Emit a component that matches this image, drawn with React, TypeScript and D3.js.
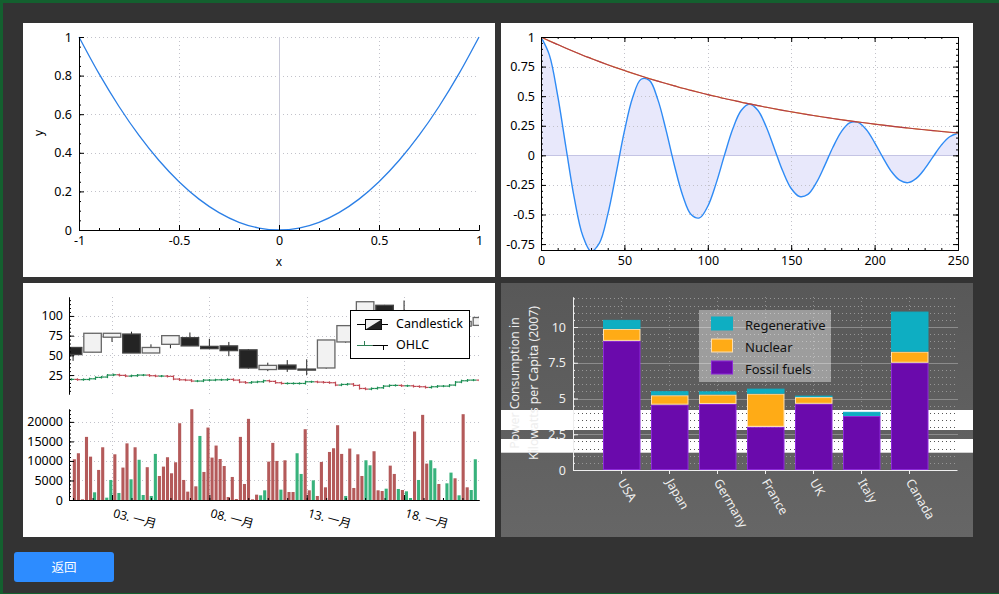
import React, {useEffect, useRef} from "react";
import * as d3 from 'd3';

const WIDTH = 999;
const HEIGHT = 594;
const FONT = '"Noto Sans", "Noto Sans CJK SC", sans-serif';
const GRID = "#c2c2ca";

// top left: parabola
const parabolaX = [-1, -0.9, -0.8, -0.7, -0.6, -0.5, -0.4, -0.3, -0.2, -0.1, 0, 0.1, 0.2, 0.3, 0.4, 0.5, 0.6, 0.7, 0.8, 0.9, 1];
const parabolaY = [1, 0.81, 0.64, 0.49, 0.36, 0.25, 0.16, 0.09, 0.04, 0.01, 0, 0.01, 0.04, 0.09, 0.16, 0.25, 0.36, 0.49, 0.64, 0.81, 1];

// top right: damped wave, sampled every 5 units
const waveX = [0, 5, 10, 15, 20, 25, 30, 35, 40, 45, 50, 55, 60, 65, 70, 75, 80, 85, 90, 95, 100, 105, 110, 115, 120, 125,
    130, 135, 140, 145, 150, 155, 160, 165, 170, 175, 180, 185, 190, 195, 200, 205, 210, 215, 220, 225, 230, 235, 240, 245, 250];
const waveY = [1, 0.849, 0.505, 0.064, -0.364, -0.678, -0.811, -0.741, -0.501, -0.156, 0.204, 0.491, 0.643, 0.633, 0.473, 0.211,
    -0.086, -0.341, -0.5, -0.529, -0.43, -0.237, 0.002, 0.225, 0.379, 0.434, 0.381, 0.242, 0.054, -0.135, -0.28, -0.348, -0.33,
    -0.233, -0.089, 0.068, 0.199, 0.274, 0.279, 0.219, 0.108, -0.019, -0.135, -0.21, -0.231, -0.195, -0.115, -0.013, 0.086, 0.157, 0.187];
const envelopeY = [1, 0.967, 0.936, 0.905, 0.875, 0.846, 0.819, 0.792, 0.766, 0.741, 0.717, 0.693, 0.67, 0.648, 0.627, 0.607,
    0.587, 0.567, 0.549, 0.531, 0.513, 0.497, 0.48, 0.465, 0.449, 0.435, 0.42, 0.407, 0.393, 0.38, 0.368, 0.356, 0.344,
    0.333, 0.322, 0.311, 0.301, 0.291, 0.282, 0.273, 0.264, 0.255, 0.247, 0.238, 0.231, 0.223, 0.216, 0.209, 0.202, 0.195, 0.189];

// bottom left: candlesticks, one per day of january
const candleDay = [1, 2, 3, 4, 5, 6, 7, 8, 9, 10, 11, 12, 13, 14, 15, 16, 17, 18, 19, 20, 21, 22];
const candleOpen = [60, 54, 73, 77, 53, 64, 72.5, 61.4, 62, 57, 32, 37.7, 32.6, 34, 67, 90, 113.5, 95, 85, 95, 87, 88];
const candleClose = [51, 78, 78, 53, 60, 75, 62, 58.5, 56, 34, 37.3, 32.6, 31.3, 69.5, 87.7, 118, 95, 100, 95, 85, 93, 98];
const candleHigh = [60, 78, 78, 80, 64, 75, 79, 71, 67, 58, 40.7, 44, 45, 69.5, 87.7, 118, 114, 119.6, 100, 98, 94, 98];
const candleLow = [43, 54, 67, 53, 53, 59, 62, 58, 49, 33, 30, 29, 25, 33, 66, 88, 93, 90, 80, 82, 86, 87];

// small ohlc series, three bars per day
const ohlcClose = [19.5, 19.2, 19.4, 20.3, 22, 22.5, 25, 25.4, 24.6, 23.7, 24.2, 25, 25, 24.2, 23.7, 23.7, 23.3, 19.9, 19, 18.6,
    17.4, 17.4, 18.6, 18.6, 19, 19, 19.5, 18.6, 16.1, 15.3, 16.1, 16.5, 17.8, 17, 15.3, 14.4, 14.4, 14.4, 14.4, 16.5, 16.5, 16.1,
    15.7, 15.3, 12.3, 13.1, 13.6, 11.9, 8, 7.2, 8, 8.9, 11, 11.9, 11.9, 11.4, 11.4, 10.6, 10.2, 9.3, 10.2, 11, 11, 12.3, 16.1, 17.8, 18.6, 18.6, 17.8];

// volume bars, sign gives the colour
const volume = [-10430, -11970, -170, -16160, -11100, 1970, -7700, -13500, 600, 5130, -11700, 1800, -8300, -14500, 5300, -13500,
    10300, 1280, -8400, 1030, 11800, -6150, -8550, -10950, -6840, -9660, -19660, -5130, -2140, -23250, -3500, 16400, -7180, -18550,
    -10860, -13940, -10500, -8700, -770, -5900, -260, -16160, -4100, -20780, -170, -1370, 1200, 2480, -9830, -14620, -10000, 2650,
    -10170, -2050, -2050, 11970, 6670, -18130, -2480, 5040, -1030, -9750, -3250, -12300, -13250, -19150, -11800, 1030, -13170, -3080,
    -11700, -6150, 10170, 8890, -12480, -2480, -2300, 2900, -8800, -6670, 2820, -2560, 2220, 510, -17530, 5130, -21800, -9320, 10170,
    8120, -4100, 0, 4270, 7010, -5560, 1200, -21970, -3250, 2560, 10430];

// bottom right: stacked energy bars
const countries = ["USA", "Japan", "Germany", "France", "UK", "Italy", "Canada"];
const fossil = [9.03, 4.57, 4.62, 3.02, 4.63, 3.78, 7.5];
const nuclear = [0.84, 0.66, 0.66, 2.32, 0.47, 0, 0.78];
const regen = [0.63, 0.28, 0.22, 0.35, 0.1, 0.29, 2.8];
const legendNames = ["Regenerative", "Nuclear", "Fossil fuels"];

const range = (a: number, b: number, s: number) => d3.range(a, b + s / 2, s).map(v => +v.toFixed(4));

const styleAxis = (g: any, color: string) => {
    g.attr("font-family", FONT).attr("font-size", 12.5).style("color", color);
};

const yAxis = (root: any, scale: any, x: number, majors: number[], minors: number[], color: string, pad: number, fmt?: any) => {
    const a = root.append("g").attr("transform", `translate(${x},0)`);
    a.call(d3.axisLeft(scale).tickValues(minors).tickSize(-2).tickSizeOuter(0).tickFormat(() => ""));
    const b = root.append("g").attr("transform", `translate(${x},0)`);
    b.call(d3.axisLeft(scale).tickValues(majors).tickSize(-5).tickSizeOuter(0).tickPadding(pad).tickFormat(fmt || ((d: any) => String(d))));
    styleAxis(a, color);
    styleAxis(b, color);
    return b;
};

const xAxis = (root: any, scale: any, y: number, majors: number[], minors: number[], color: string, fmt?: any) => {
    const a = root.append("g").attr("transform", `translate(0,${y})`);
    a.call(d3.axisBottom(scale).tickValues(minors).tickSize(-2).tickSizeOuter(0).tickFormat(() => ""));
    const b = root.append("g").attr("transform", `translate(0,${y})`);
    b.call(d3.axisBottom(scale).tickValues(majors).tickSize(-5).tickSizeOuter(0).tickPadding(6).tickFormat(fmt || ((d: any) => String(d))));
    styleAxis(a, color);
    styleAxis(b, color);
    return b;
};

const gridH = (root: any, scale: any, values: number[], x0: number, x1: number, color = GRID, dash = "1 3") => {
    root.append("g").selectAll("line").data(values).enter().append("line")
        .attr("x1", x0).attr("x2", x1)
        .attr("y1", (d: number) => Math.round(scale(d)) + 0.5).attr("y2", (d: number) => Math.round(scale(d)) + 0.5)
        .attr("stroke", color).attr("stroke-dasharray", dash);
};

const gridV = (root: any, scale: any, values: number[], y0: number, y1: number, color = GRID) => {
    root.append("g").selectAll("line").data(values).enter().append("line")
        .attr("y1", y0).attr("y2", y1)
        .attr("x1", (d: number) => Math.round(scale(d)) + 0.5).attr("x2", (d: number) => Math.round(scale(d)) + 0.5)
        .attr("stroke", color).attr("stroke-dasharray", "1 3");
};

const drawParabola = (root: any) => {
    root.append("rect").attr("x", 23).attr("y", 23).attr("width", 472).attr("height", 254).attr("fill", "#fff");
    const x = d3.scaleLinear().domain([-1, 1]).range([79, 479]);
    const y = d3.scaleLinear().domain([0, 1]).range([230, 37]);
    gridH(root, y, [0.2, 0.4, 0.6, 0.8, 1], 79, 479);
    gridV(root, x, [-0.5, 0.5], 37, 230);
    root.append("line").attr("x1", x(0) + 0.5).attr("x2", x(0) + 0.5).attr("y1", 37).attr("y2", 230).attr("stroke", "#c8c8d8");
    const line = d3.line<number>().x(d => x(parabolaX[d])).y(d => y(parabolaY[d])).curve(d3.curveCatmullRom);
    root.append("path").attr("d", line(d3.range(parabolaX.length))).attr("fill", "none").attr("stroke", "#2b7fe6").attr("stroke-width", 1.3);
    xAxis(root, x, 230, [-1, -0.5, 0, 0.5, 1], range(-1, 1, 0.1), "#000");
    yAxis(root, y, 79, [0, 0.2, 0.4, 0.6, 0.8, 1], range(0, 1, 0.05), "#000", 7);
    root.append("text").attr("x", 279).attr("y", 266).attr("text-anchor", "middle").attr("font-family", FONT).attr("font-size", 12).text("x");
    root.append("text").attr("transform", "translate(43,133) rotate(-90)").attr("text-anchor", "middle").attr("font-family", FONT).attr("font-size", 12).text("y");
};

const drawWave = (root: any) => {
    root.append("rect").attr("x", 501).attr("y", 23).attr("width", 472).attr("height", 254).attr("fill", "#fff");
    const x = d3.scaleLinear().domain([0, 250]).range([541, 958]);
    const y = d3.scaleLinear().domain([-0.8, 1]).range([250, 37]);
    const idx = d3.range(waveX.length);
    root.append("clipPath").attr("id", "waveClip").append("rect").attr("x", 541).attr("y", 37).attr("width", 417).attr("height", 213);
    const plot = root.append("g").attr("clip-path", "url(#waveClip)");
    const area = d3.area<number>().x(d => x(waveX[d])).y0(y(0)).y1(d => y(waveY[d])).curve(d3.curveCatmullRom);
    plot.append("path").attr("d", area(idx)).attr("fill", "#e8e8fb");
    gridH(root, y, [-0.75, -0.5, -0.25, 0.25, 0.5, 0.75], 541, 958);
    gridV(root, x, [50, 100, 150, 200], 37, 250);
    root.append("line").attr("x1", 541).attr("x2", 958).attr("y1", Math.round(y(0)) + 0.5).attr("y2", Math.round(y(0)) + 0.5).attr("stroke", "#c4c4e4");
    const wave = d3.line<number>().x(d => x(waveX[d])).y(d => y(waveY[d])).curve(d3.curveCatmullRom);
    const env = d3.line<number>().x(d => x(waveX[d])).y(d => y(envelopeY[d])).curve(d3.curveCatmullRom);
    const lines = root.append("g").attr("clip-path", "url(#waveClip)");
    lines.append("path").attr("d", wave(idx)).attr("fill", "none").attr("stroke", "#2f8bf5").attr("stroke-width", 1.4);
    lines.append("path").attr("d", env(idx)).attr("fill", "none").attr("stroke", "#f0a020").attr("stroke-width", 1.2);
    lines.append("path").attr("d", env(idx)).attr("fill", "none").attr("stroke", "#b03c50").attr("stroke-width", 1.1);
    xAxis(root, x, 250, [0, 50, 100, 150, 200, 250], range(0, 250, 10), "#000");
    yAxis(root, y, 541, [-0.75, -0.5, -0.25, 0, 0.25, 0.5, 0.75, 1], range(-0.8, 1, 0.05), "#000", 6);
    // mirrored axes on top and right, no labels
    const top = root.append("g").attr("transform", "translate(0,37)");
    top.call(d3.axisTop(x).tickValues(range(0, 250, 10)).tickSize(-2).tickSizeOuter(0).tickFormat(() => ""));
    root.append("g").attr("transform", "translate(0,37)").call(d3.axisTop(x).tickValues([0, 50, 100, 150, 200, 250]).tickSize(-5).tickSizeOuter(0).tickFormat(() => ""));
    root.append("g").attr("transform", "translate(958,0)").call(d3.axisRight(y).tickValues(range(-0.8, 1, 0.05)).tickSize(-2).tickSizeOuter(0).tickFormat(() => ""));
    root.append("g").attr("transform", "translate(958,0)").call(d3.axisRight(y).tickValues([-0.75, -0.5, -0.25, 0, 0.25, 0.5, 0.75, 1]).tickSize(-5).tickSizeOuter(0).tickFormat(() => ""));
};

const drawFinance = (root: any) => {
    root.append("rect").attr("x", 23).attr("y", 283).attr("width", 472).attr("height", 254).attr("fill", "#fff");
    const x = d3.scaleLinear().domain([0.79, 21.85]).range([69, 479]);
    const yc = d3.scaleLinear().domain([1, 124]).range([394, 297]);
    const yv = d3.scaleLinear().domain([0, 23300]).range([500, 409]);
    const majorDays = [3, 8, 13, 18];

    root.append("clipPath").attr("id", "financeClip").append("rect").attr("x", 70).attr("y", 297).attr("width", 409).attr("height", 97);

    gridH(root, yc, [25, 50, 75, 100], 70, 479);
    gridV(root, x, majorDays, 297, 394);
    gridH(root, yv, [5000, 10000, 15000, 20000], 70, 479);
    gridV(root, x, majorDays, 409, 500);

    const candles = root.append("g").attr("clip-path", "url(#financeClip)");
    const bodyW = 17.5;
    candleDay.forEach((day, i) => {
        const o = candleOpen[i], c = candleClose[i];
        const cx = x(day);
        const dark = c < o;
        candles.append("line").attr("x1", cx).attr("x2", cx).attr("y1", yc(candleHigh[i])).attr("y2", yc(candleLow[i])).attr("stroke", "#222");
        candles.append("rect").attr("x", cx - bodyW / 2).attr("width", bodyW)
            .attr("y", yc(Math.max(o, c))).attr("height", Math.abs(yc(o) - yc(c)))
            .attr("fill", dark ? "#242424" : "#f2f2f2").attr("stroke", dark ? "#444" : "#666").attr("stroke-width", 1.3);
    });

    // ohlc, each bar opens where the previous one closed
    const ohlc = root.append("g").attr("clip-path", "url(#financeClip)");
    const ohlcX = d3.scaleBand<number>().domain(d3.range(ohlcClose.length)).range([68.5, 68.5 + ohlcClose.length * 6.0]);
    ohlcClose.forEach((c, i) => {
        const o = i === 0 ? c : ohlcClose[i - 1];
        const cx = ohlcX(i)! + ohlcX.bandwidth() / 2;
        const col = c >= o ? "#1f8f55" : "#c04a55";
        ohlc.append("line").attr("x1", cx).attr("x2", cx).attr("y1", yc(Math.max(o, c) + 1.4)).attr("y2", yc(Math.min(o, c) - 1.4)).attr("stroke", col).attr("stroke-width", 1.2);
        ohlc.append("line").attr("x1", cx - 3).attr("x2", cx).attr("y1", yc(o)).attr("y2", yc(o)).attr("stroke", col).attr("stroke-width", 1.2);
        ohlc.append("line").attr("x1", cx).attr("x2", cx + 3).attr("y1", yc(c)).attr("y2", yc(c)).attr("stroke", col).attr("stroke-width", 1.2);
    });

    const band = d3.scaleBand<number>().domain(d3.range(volume.length)).range([72.3, 477.3]);
    root.append("g").selectAll("rect").data(volume).enter().append("rect")
        .attr("x", (_: number, i: number) => band(i)! + 0.5)
        .attr("width", 3.1)
        .attr("y", (d: number) => yv(Math.abs(d)))
        .attr("height", (d: number) => 500 - yv(Math.abs(d)))
        .attr("fill", (d: number) => d > 0 ? "#38b27c" : "#b45a5a");

    yAxis(root, yc, 69, [25, 50, 75, 100], range(5, 120, 5), "#000", 6);
    yAxis(root, yv, 69, [0, 5000, 10000, 15000, 20000], range(0, 23000, 1000), "#000", 6);
    const bottom = xAxis(root, x, 500, majorDays, range(1, 21, 1), "#000", (d: any) => `${String(d).padStart(2, "0")}. 一月`);
    bottom.selectAll("text").attr("y", 0).attr("dy", 0).attr("text-anchor", "start").attr("font-size", 12).attr("transform", "translate(0,17) rotate(15)");

    // legend
    const lg = root.append("g");
    lg.append("rect").attr("x", 350.5).attr("y", 310.5).attr("width", 119).attr("height", 48).attr("fill", "#fff").attr("stroke", "#000");
    lg.append("line").attr("x1", 357).attr("x2", 388).attr("y1", 324.5).attr("y2", 324.5).attr("stroke", "#000");
    lg.append("rect").attr("x", 365.5).attr("y", 319.5).attr("width", 16).attr("height", 10).attr("fill", "#f2f2f2").attr("stroke", "#000");
    lg.append("path").attr("d", "M381.5,319.5 L381.5,329.5 L365.5,329.5 Z").attr("fill", "#242424");
    lg.append("path").attr("d", "M357,345.5 H372.5 M364.5,345.5 V341").attr("fill", "none").attr("stroke", "#2f7f55");
    lg.append("path").attr("d", "M372.5,345.5 H388 M383.5,345.5 V350").attr("fill", "none").attr("stroke", "#000");
    lg.append("text").attr("x", 396).attr("y", 328).attr("font-family", FONT).attr("font-size", 12.5).text("Candlestick");
    lg.append("text").attr("x", 396).attr("y", 349).attr("font-family", FONT).attr("font-size", 12.5).text("OHLC");
};

const drawEnergy = (root: any) => {
    const defs = root.append("defs");
    const grad = defs.append("linearGradient").attr("id", "energyBg").attr("x1", 0).attr("x2", 0).attr("y1", 0).attr("y2", 1);
    grad.append("stop").attr("offset", 0).attr("stop-color", "#585858");
    grad.append("stop").attr("offset", 1).attr("stop-color", "#666666");
    root.append("rect").attr("x", 501).attr("y", 283).attr("width", 472).attr("height", 254).attr("fill", "url(#energyBg)");
    // the white stripes in the screenshot
    const bands = [[410, 20], [439, 13.7]];
    const clip = defs.append("clipPath").attr("id", "bandClip");
    bands.forEach(b => {
        root.append("rect").attr("x", 501).attr("y", b[0]).attr("width", 472).attr("height", b[1]).attr("fill", "#fff");
        clip.append("rect").attr("x", 501).attr("y", b[0]).attr("width", 472).attr("height", b[1]);
    });

    const x = d3.scaleLinear().domain([0, 8]).range([573, 957]);
    const y = d3.scaleLinear().domain([0, 12.1]).range([470, 297]);
    const cols = countries.map((_, i) => i + 1);
    const minorRows = range(0.5, 12, 0.5).filter(v => v % 2.5 !== 0);
    const majorRows = [2.5, 5, 7.5, 10];

    gridH(root, y, minorRows, 574, 958, "#969696");
    gridV(root, x, cols, 297, 470, "#8c8c8c");
    gridH(root, y, majorRows, 574, 958, "#8c8c8c", "none");
    const dark = root.append("g").attr("clip-path", "url(#bandClip)");
    gridH(dark, y, minorRows, 574, 958, "#555");

    const rows = countries.map((_, i) => ({i, fossil: fossil[i], nuclear: nuclear[i], regen: regen[i]}));
    const stack = d3.stack<any>().keys(["fossil", "nuclear", "regen"])(rows);
    const fills: any = {fossil: "#6a0aac", nuclear: "#ffab16", regen: "#0eaec2"};
    const strokes: any = {fossil: "#8c2ad8", nuclear: "#ffe0b0", regen: "#0eaec2"};
    stack.forEach(layer => {
        root.append("g").selectAll("rect").data(layer).enter().append("rect")
            .attr("x", (_: any, i: number) => x(i + 1) - 17.5)
            .attr("width", 36.5)
            .attr("y", (d: any) => y(d[1]) + 0.5)
            .attr("height", (d: any) => Math.max(0, y(d[0]) - y(d[1]) - 1))
            .attr("fill", fills[layer.key]).attr("stroke", strokes[layer.key]);
    });

    yAxis(root, y, 573, [0, 2.5, 5, 7.5, 10], range(0, 12, 0.5), "#eee", 7);
    const bottom = root.append("g").attr("transform", "translate(0,470)");
    bottom.call(d3.axisBottom(x).tickValues(cols).tickSize(4).tickSizeOuter(0).tickFormat((d: any) => countries[d - 1]));
    styleAxis(bottom, "#eee");
    bottom.selectAll("text").attr("x", 0).attr("y", 0).attr("dy", 0).attr("text-anchor", "start").attr("transform", "translate(-4,12) rotate(60)");

    root.append("text").attr("transform", "translate(519,383) rotate(-90)").attr("text-anchor", "middle")
        .attr("font-family", FONT).attr("font-size", 12.3).attr("fill", "#eee").text("Power Consumption in");
    root.append("text").attr("transform", "translate(538,383) rotate(-90)").attr("text-anchor", "middle")
        .attr("font-family", FONT).attr("font-size", 12.3).attr("fill", "#eee").text("Kilowatts per Capita (2007)");

    // legend
    root.append("rect").attr("x", 699).attr("y", 310).attr("width", 132).attr("height", 72).attr("fill", "#fff").attr("fill-opacity", 0.4);
    const legendFill = [fills.regen, fills.nuclear, fills.fossil];
    const legendStroke = [strokes.regen, strokes.nuclear, strokes.fossil];
    legendNames.forEach((name, i) => {
        root.append("rect").attr("x", 711.5).attr("y", 317 + i * 22).attr("width", 21).attr("height", 13)
            .attr("fill", legendFill[i]).attr("stroke", legendStroke[i]);
        root.append("text").attr("x", 745).attr("y", 330 + i * 22).attr("font-family", FONT).attr("font-size", 13).attr("fill", "#111").text(name);
    });
};

export default function App() {
    const ref = useRef<SVGSVGElement>(null);

    useEffect(() => {
        const root = d3.select(ref.current);
        root.selectAll("*").remove();
        root.append("rect").attr("width", WIDTH).attr("height", HEIGHT).attr("fill", "#333333");
        // window frame
        root.append("rect").attr("width", WIDTH).attr("height", 3).attr("fill", "#14602f");
        root.append("rect").attr("width", 3).attr("height", HEIGHT).attr("fill", "#14602f");
        root.append("rect").attr("y", 593).attr("width", WIDTH).attr("height", 1).attr("fill", "#14602f");

        drawParabola(root);
        drawWave(root);
        drawFinance(root);
        drawEnergy(root);

        root.append("rect").attr("x", 14).attr("y", 552).attr("width", 100).attr("height", 30).attr("rx", 3).attr("fill", "#2d8cff");
        root.append("text").attr("x", 64).attr("y", 572).attr("text-anchor", "middle").attr("font-family", FONT).attr("font-size", 12.5).attr("fill", "#fff").text("返回");
    }, []);

    return (
        <svg ref={ref} width={WIDTH} height={HEIGHT} style={{position: "absolute", left: 0, top: 0, display: "block"}}/>
    )
}
